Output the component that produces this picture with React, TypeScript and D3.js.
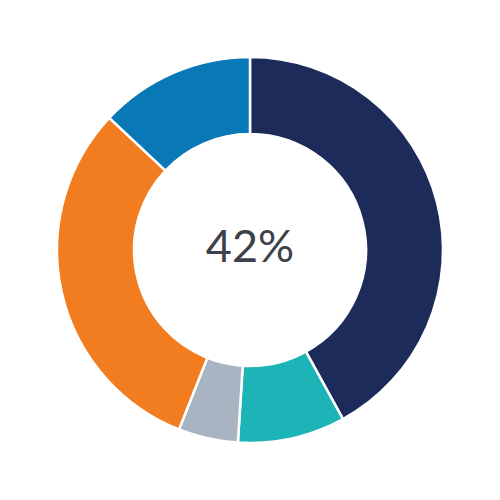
import { useEffect, useRef } from "react";
import * as d3 from "d3";

const categories = ["A", "B", "C", "D", "E"];
const values = [42, 9, 5, 31, 13];
const colors = ["#1c2b5a", "#1db4b7", "#a9b4c2", "#f27d20", "#0878b6"];
const centerLabel = "42%";

export default function App() {
  const ref = useRef<SVGSVGElement>(null);

  useEffect(() => {
    const width = 500;
    const height = 500;
    const svg = d3.select(ref.current);
    svg.selectAll("*").remove();

    const g = svg
      .append("g")
      .attr("transform", `translate(${width / 2}, ${height / 2})`);

    const pie = d3
      .pie<number>()
      .sort(null)
      .value((d) => d);

    const arc = d3
      .arc<d3.PieArcDatum<number>>()
      .innerRadius(116)
      .outerRadius(193);

    g.selectAll("path")
      .data(pie(values))
      .join("path")
      .attr("d", arc)
      .attr("fill", (d, i) => colors[i])
      .attr("stroke", "white")
      .attr("stroke-width", 2.5)
      .append("title")
      .text((d, i) => categories[i]);

    g.append("text")
      .attr("text-anchor", "middle")
      .attr("y", 12)
      .attr("fill", "#3d4148")
      .style("font-family", "Lato, sans-serif")
      .style("font-size", "45px")
      .text(centerLabel);
  }, []);

  return (
    <svg
      ref={ref}
      width={500}
      height={500}
      style={{ position: "absolute", left: 0, top: 0, background: "white" }}
    />
  );
}
